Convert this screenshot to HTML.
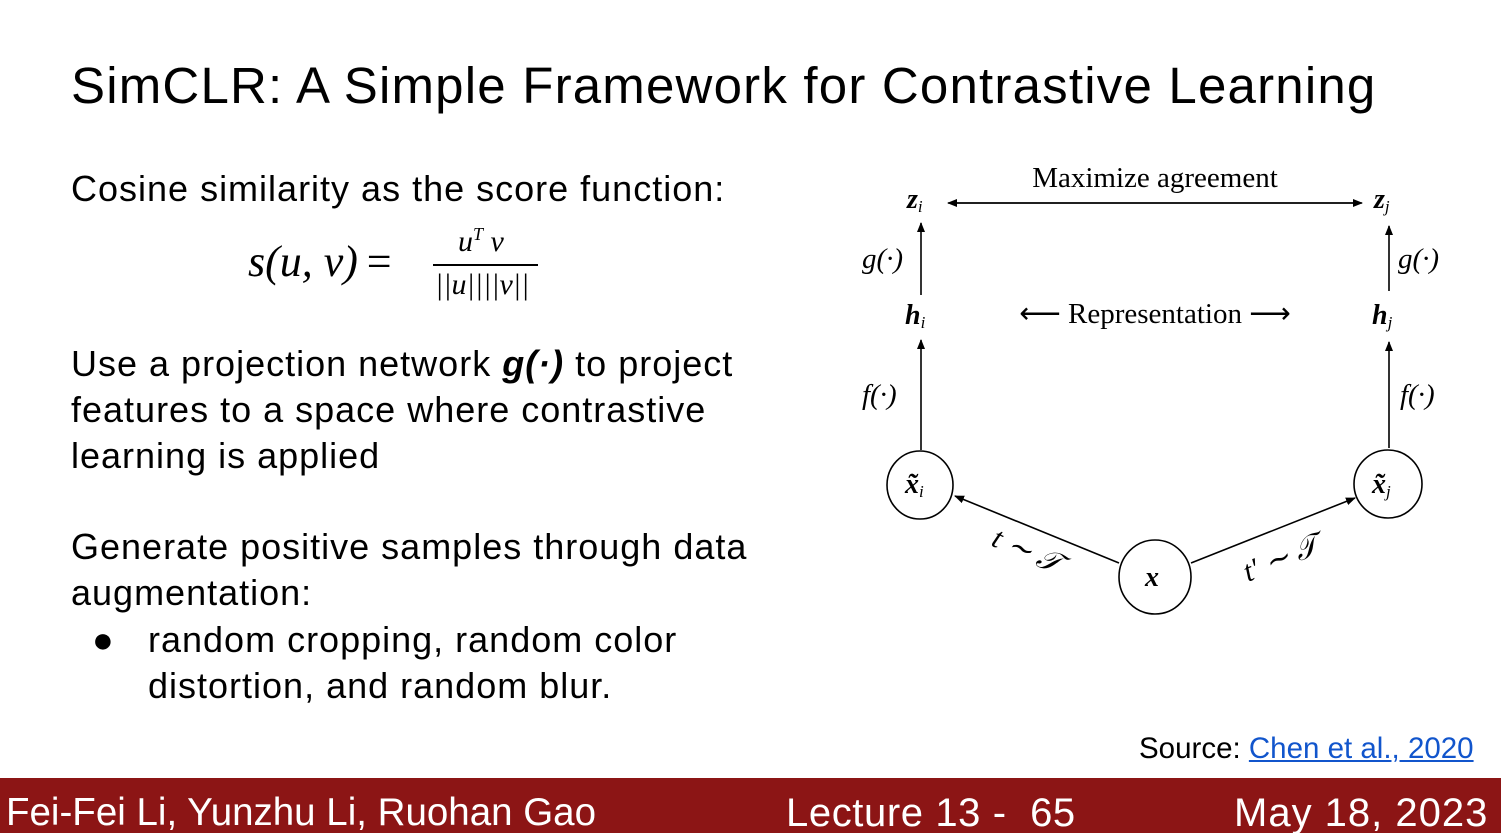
<!DOCTYPE html>
<html><head><meta charset="utf-8"><style>
body{margin:0;width:1501px;height:833px;background:#fff;position:relative;overflow:hidden;font-family:"Liberation Sans",Arial,sans-serif;}
.t{position:absolute;white-space:nowrap;color:#000;}
.s{font-family:"Liberation Serif",serif;}
.b{font-size:36px;letter-spacing:1px;line-height:46px;}
</style></head><body>
<div class="t" style="left:71px;top:56px;font-size:51px;letter-spacing:1.2px;">SimCLR: A Simple Framework for Contrastive Learning</div>
<div class="t b" style="left:71px;top:166px;">Cosine similarity as the score function:</div>
<div class="t s" style="left:248px;top:236px;font-size:44px;font-style:italic;">s(u, v)&thinsp;<span style="font-style:normal">=</span></div>
<div class="t s" style="left:458px;top:224px;font-size:30px;font-style:italic;">u<sup style="font-size:18px">T</sup> v</div>
<div style="position:absolute;left:433px;top:264px;width:105px;height:2px;background:#000"></div>
<div class="t s" style="left:435px;top:268px;font-size:30px;font-style:italic;">||u||||v||</div>
<div class="t b" style="left:71px;top:341px;">Use a projection network <b><i>g(·)</i></b> to project<br>features to a space where contrastive<br>learning is applied</div>
<div class="t b" style="left:71px;top:524px;">Generate positive samples through data<br>augmentation:</div>
<div class="t b" style="left:92px;top:617px;">●</div>
<div class="t b" style="left:148px;top:617px;">random cropping, random color<br>distortion, and random blur.</div>

<svg style="position:absolute;left:0;top:0" width="1501" height="833">
<defs><marker id="a" markerWidth="10" markerHeight="8" refX="9" refY="4" orient="auto" markerUnits="userSpaceOnUse"><path d="M0,0L10,4L0,8z" fill="#000"/></marker></defs>
<g stroke="#000" stroke-width="1.6" fill="none">
<line x1="950" y1="203" x2="1362" y2="203" marker-end="url(#a)"/>
<line x1="1360" y1="203" x2="948" y2="203" marker-end="url(#a)"/>
<line x1="921" y1="295" x2="921" y2="223" marker-end="url(#a)"/>
<line x1="921" y1="450" x2="921" y2="340" marker-end="url(#a)"/>
<line x1="1389" y1="291" x2="1389" y2="226" marker-end="url(#a)"/>
<line x1="1389" y1="448" x2="1389" y2="342" marker-end="url(#a)"/>
<ellipse cx="920" cy="485" rx="33" ry="34"/>
<ellipse cx="1388" cy="484" rx="34" ry="34"/>
<ellipse cx="1155" cy="577" rx="36" ry="37"/>
<line x1="1119" y1="563" x2="955" y2="496" marker-end="url(#a)"/>
<line x1="1191" y1="563" x2="1355" y2="498" marker-end="url(#a)"/>
</g>
<g font-family="Liberation Serif,serif" fill="#000">
<text x="1155" y="187" font-size="29" text-anchor="middle">Maximize agreement</text>
<text x="1155" y="323" font-size="29" text-anchor="middle">⟵ Representation ⟶</text>
<text x="907" y="208" font-size="28" font-weight="bold" font-style="italic">z<tspan font-size="17" font-weight="normal" dy="4">i</tspan></text>
<text x="1374" y="208" font-size="28" font-weight="bold" font-style="italic">z<tspan font-size="17" font-weight="normal" dy="4">j</tspan></text>
<text x="905" y="324" font-size="28" font-weight="bold" font-style="italic">h<tspan font-size="17" font-weight="normal" dy="4">i</tspan></text>
<text x="1372" y="324" font-size="28" font-weight="bold" font-style="italic">h<tspan font-size="17" font-weight="normal" dy="4">j</tspan></text>
<text x="862" y="268" font-size="29" font-style="italic">g(·)</text>
<text x="1398" y="268" font-size="29" font-style="italic">g(·)</text>
<text x="862" y="404" font-size="29" font-style="italic">f(·)</text>
<text x="1400" y="404" font-size="29" font-style="italic">f(·)</text>
<text x="905" y="493" font-size="28" font-weight="bold" font-style="italic">x̃<tspan font-size="17" font-weight="normal" dy="4">i</tspan></text>
<text x="1372" y="493" font-size="28" font-weight="bold" font-style="italic">x̃<tspan font-size="17" font-weight="normal" dy="4">j</tspan></text>
<text x="1145" y="586" font-size="28" font-weight="bold" font-style="italic">x</text>
<text x="990" y="545" font-size="30" font-style="italic" transform="rotate(24 990 545)">t ∼ 𝒯</text>
<text x="1248" y="582" font-size="30" font-style="italic" transform="rotate(-22 1248 582)">t′ ∼ 𝒯</text>
</g>
</svg>

<div class="t" style="left:1139px;top:732px;font-size:29.5px;">Source: <span style="color:#1155cc;text-decoration:underline">Chen et al., 2020</span></div>
<div style="position:absolute;left:0;top:778px;width:1501px;height:55px;background:#8c1515"></div>
<div class="t" style="left:6px;top:791px;font-size:38.5px;color:#fff;">Fei-Fei Li, Yunzhu Li, Ruohan Gao</div>
<div class="t" style="left:786px;top:791px;font-size:40px;color:#fff;letter-spacing:0.6px;">Lecture 13 -&nbsp; 65</div>
<div class="t" style="left:1234px;top:791px;font-size:40px;color:#fff;letter-spacing:1px;">May 18, 2023</div>
</body></html>
